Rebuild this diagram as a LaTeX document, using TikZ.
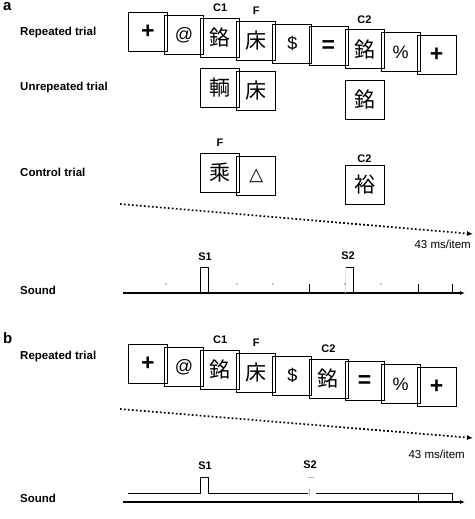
\documentclass[tikz,border=0pt]{standalone}
\usepackage{fontspec}
\setmainfont{Liberation Sans}
\newfontfamily\cjk{Noto Sans CJK JP}
\newfontfamily\dejavu{DejaVu Sans}
\usetikzlibrary{positioning,arrows.meta}
\newcommand{\symb}[1]{{\fontsize{18}{18}\selectfont #1}}
\newcommand{\symbb}[1]{{\fontsize{23}{23}\selectfont\bfseries #1}}
\newcommand{\han}[1]{{\cjk\fontsize{21}{21}\selectfont #1}}
\tikzset{
  itembox/.style={draw,line width=0.8pt,minimum size=39pt,inner sep=0pt,anchor=north west},
  rowlabel/.style={font=\fontsize{11.5}{13}\selectfont\bfseries,anchor=west,inner sep=0pt},
  itemlabel/.style={font=\fontsize{11}{12}\selectfont\bfseries,inner sep=0pt},
  partlabel/.style={font=\fontsize{15}{15}\selectfont\bfseries,anchor=base west,inner sep=0pt},
  ratelabel/.style={font=\fontsize{11.5}{13}\selectfont,anchor=east,inner sep=0pt},
  timeline/.style={line width=1.7pt,dash pattern=on 1.7pt off 2.3pt,-{Latex[length=6pt,width=5pt]}},
  soundline/.style={line width=1.2pt,-{Latex[length=5pt,width=4pt]}},
  pulse/.style={line width=0.8pt}
}
\begin{document}
\begin{tikzpicture}[x=1pt,y=-1pt]
  \useasboundingbox (0,0) rectangle (474,519);
  \pgfmathsetmacro{\dx}{36.1}
  \pgfmathsetmacro{\dy}{2.9}
  % part a
  \node[partlabel] (pa) at (3,11) {a};
  \node[rowlabel] (reptrial) at (20,33) {Repeated trial};
  \node[rowlabel] (unreptrial) at (20,88) {Unrepeated trial};
  \node[rowlabel] (ctrltrial) at (20,172) {Control trial};
  \node[rowlabel] (sounda) at (20,290) {Sound};
  \foreach \c [count=\i from 0] in {\symbb{+},\symb{@},\han{鉻},\han{床},\symb{\$},\symbb{=},\han{銘},\symb{\%},\symbb{+}}
    \node[itembox] (ra\i) at ({128+\i*\dx},{12+\i*\dy}) {\c};
  \node[itemlabel,above=6pt of ra2] (ca1) {C1};
  \node[itemlabel,above=6pt of ra3] (fa) {F};
  \node[itemlabel,above=6pt of ra6] (ca2) {C2};
  % unrepeated
  \node[itembox] (ua2) at ({128+2*\dx},{68}) {\han{輌}};
  \node[itembox] (ua3) at ({128+3*\dx},{68+\dy}) {\han{床}};
  \node[itembox] (ua6) at ({128+6*\dx},{68+4*\dy}) {\han{銘}};
  % control
  \node[itembox] (ka2) at ({128+2*\dx},{153}) {\han{乘}};
  \node[itembox] (ka3) at ({128+3*\dx},{153+\dy}) {{\dejavu\fontsize{18}{18}\selectfont △}};
  \node[itembox] (ka6) at ({128+6*\dx},{153+4*\dy}) {\han{裕}};
  \node[itemlabel,above=6pt of ka2] (kfa) {F};
  \node[itemlabel,above=2pt of ka6] (kca2) {C2};
  % time axis
  \coordinate (ta0) at (120,204);
  \coordinate (ta1) at (473,234);
  \draw[timeline] (ta0) -- (ta1);
  \node[ratelabel] (ratea) at (471,244) {43 ms/item};
  % sound a
  \coordinate (sa0) at (123,293);
  \coordinate (sa1) at (465,293);
  \draw[soundline] (sa0) -- (sa1);
  \draw[pulse] (200,293) -- (200,267) -- (208,267) -- (208,293);
  \draw[pulse] (345,267) -- (353,267) -- (353,293);
  \draw[pulse,black!12] (345,267) -- (345,293);
  \foreach \t in {309,418,452}
    \draw[pulse] (\t,284) -- (\t,293);
  \foreach \t in {166,237,273,345,381}
    \fill (\t,284) circle (0.6);
  \node[itemlabel] (s1a) at (205,257) {S1};
  \node[itemlabel] (s2a) at (348,256) {S2};
  % part b
  \node[partlabel] (pb) at (3,343) {b};
  \node[rowlabel] (reptrialb) at (20,357) {Repeated trial};
  \node[rowlabel] (soundb) at (20,498) {Sound};
  \foreach \c [count=\i from 0] in {\symbb{+},\symb{@},\han{銘},\han{床},\symb{\$},\han{銘},\symbb{=},\symb{\%},\symbb{+}}
    \node[itembox] (rb\i) at ({128+\i*\dx},{344+\i*\dy}) {\c};
  \node[itemlabel,above=6pt of rb2] (cb1) {C1};
  \node[itemlabel,above=6pt of rb3] (fb) {F};
  \node[itemlabel,above=6pt of rb5] (cb2) {C2};
  \coordinate (tb0) at (120,409);
  \coordinate (tb1) at (473,438);
  \draw[timeline] (tb0) -- (tb1);
  \node[ratelabel] (rateb) at (465,454) {43 ms/item};
  % sound b
  \coordinate (sb0) at (123,502);
  \coordinate (sb1) at (465,502);
  \draw[soundline] (sb0) -- (sb1);
  \draw[pulse] (128,493) -- (200,493) -- (200,477) -- (208,477) -- (208,493) -- (308,493);
  \draw[pulse] (316,493) -- (452,493) -- (452,502);
  \draw[pulse] (418,493) -- (418,502);
  \draw[pulse,black!30] (308,477) -- (314,477);
  \draw[pulse,black!30] (309,489) -- (309,496);
  \node[itemlabel] (s1b) at (205,466) {S1};
  \node[itemlabel] (s2b) at (310,465) {S2};
\end{tikzpicture}
\end{document}
